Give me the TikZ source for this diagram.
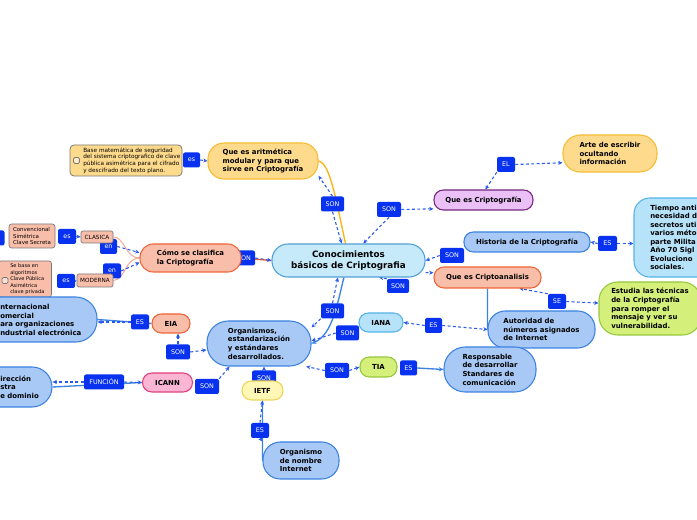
\documentclass[tikz,border=0pt]{standalone}
\usepackage{fontspec}
\setmainfont{DejaVu Sans}
\usetikzlibrary{arrows.meta}
\pgfdeclarelayer{back}
\pgfdeclarelayer{bg}
\pgfsetlayers{back,bg,main}
\definecolor{labc}{RGB}{8,50,240}
\definecolor{arrc}{RGB}{40,90,235}
\definecolor{cenF}{RGB}{198,234,250}
\definecolor{cenD}{RGB}{80,160,215}
\definecolor{bluF}{RGB}{168,201,246}
\definecolor{bluD}{RGB}{60,130,225}
\definecolor{salF}{RGB}{249,190,170}
\definecolor{salD}{RGB}{240,100,55}
\definecolor{yelF}{RGB}{253,218,140}
\definecolor{yelD}{RGB}{246,188,50}
\definecolor{lilF}{RGB}{234,192,246}
\definecolor{lilD}{RGB}{118,40,128}
\definecolor{cyaF}{RGB}{182,226,250}
\definecolor{cyaD}{RGB}{85,180,232}
\definecolor{limF}{RGB}{212,240,122}
\definecolor{limD}{RGB}{150,200,60}
\definecolor{pinF}{RGB}{251,182,212}
\definecolor{pinD}{RGB}{226,64,124}
\definecolor{pylF}{RGB}{255,247,182}
\definecolor{pylD}{RGB}{238,212,90}
\definecolor{grayD}{RGB}{120,120,120}
\definecolor{orgl}{RGB}{250,180,20}
\definecolor{redl}{RGB}{240,90,50}
\definecolor{sall}{RGB}{245,165,145}
\begin{document}
\begin{tikzpicture}[x=0.75pt,y=-0.75pt,
  box/.style n args={3}{minimum width=#1*0.75pt,minimum height=#2*0.75pt,rounded corners=#3},
  nd/.style={draw, line width=0.8pt, inner sep=0pt, align=left, font=\fontsize{5.2}{6.5}\selectfont\bfseries},
  ndc/.style={nd, align=center},
  lbl/.style={fill=labc, rounded corners=1.5pt, inner sep=0pt, text=white, font=\fontsize{4.8}{5.5}\selectfont, minimum height=15*0.75pt, minimum width=#1*0.75pt},
  lbl/.default=23,
  small/.style={draw=grayD, line width=0.5pt, inner sep=0pt, align=left, font=\fontsize{4.1}{5.1}\selectfont},
  chk/.style={draw=grayD, line width=0.5pt, rounded corners=1pt, minimum size=6*0.75pt, inner sep=0pt},
  txt/.style={inner sep=0pt, anchor=west, align=left},
  dsh/.style={draw=arrc, line width=0.8pt, dash pattern=on 2.2pt off 1.8pt, -{Stealth[length=3.2pt,width=3pt]}},
  sol/.style={draw=bluD, line width=1pt},
  solar/.style={sol, -{Stealth[length=3.5pt,width=3.2pt]}}
]
\begin{pgfonlayer}{back}
\fill[white] (0,0) rectangle (697,520);
\end{pgfonlayer}
\useasboundingbox (0,0) rectangle (697,520);

% central
\node[ndc, draw=cenD, fill=cenF, box={153}{33}{12pt}, font=\fontsize{6.6}{8}\selectfont\bfseries] (central) at (348.5,260.5) {Conocimientos\\básicos de Criptografia};

% aritmetica branch
\node[nd, draw=yelD, fill=yelF, box={110}{36}{12pt}] (arit) at (263,161) {Que es aritmética\\modular y para que\\sirve en Criptografía};
\node[draw=grayD, line width=0.6pt, fill=yelF, box={112}{31}{3pt}] (base) at (126,160.5) {};
\node[chk, fill=yelF!50!white] (chk1) at (76.5,160.5) {};
\node[txt, font=\fontsize{4.3}{5}\selectfont] (basetxt) at (83,160.5) {Base matemática de seguridad\\del sistema criptografico de clave\\pública asimétrica para el cifrado\\y descifrado del texto plano.};
\node[lbl=17] (es1) at (191.5,160) {es};
\node[lbl=23] (sonar) at (332.5,204) {SON};

% clasificacion branch
\node[lbl=22] (soncomo) at (244,258) {SON};
\node[nd, draw=salD, fill=salF, box={101}{28}{10pt}] (como) at (190.5,258) {Cómo se clasifica\\la Criptografía};
\node[lbl=17] (en1) at (108.5,246.5) {en};
\node[lbl=18] (en2) at (112,271) {en};
\node[small, fill=salF, box={32}{12}{1.5pt}, align=center, font=\fontsize{4.3}{5}\selectfont] (clasica) at (97,237) {CLASICA};
\node[small, fill=salF, box={36}{13}{1.5pt}, align=center, font=\fontsize{4.3}{5}\selectfont] (moderna) at (95,280.5) {MODERNA};
\node[small, fill=salF, box={46}{24}{2pt}] (conv) at (32,236) {Convencional\\Simétrica\\Clave Secreta};
\node[lbl=18] (es2) at (67,236.5) {es};
\node[lbl=15] (leftlbl) at (-3,238) {};
\node[small, fill=salF, box={53}{36}{2pt}] (sebasa) at (25,279) {};
\node[chk, fill=salF!50!white] (chk2) at (5,280.5) {};
\node[txt, font=\fontsize{3.8}{4.9}\selectfont] (sebasatxt) at (10,279.5) {Se basa en\\algoritmos\\Clave Pública\\Asimétrica\\clave privada};
\node[lbl=18, minimum height=14*0.75pt] (es3) at (66,281) {es};

% organismos branch
\node[nd, draw=bluD, fill=bluF, box={137}{45}{16pt}] (intl) at (28.5,319.5) {};
\node[txt, font=\fontsize{5.2}{6.5}\selectfont\bfseries] (intltxt) at (0,320) {nternacional\\omercial\\ara organizaciones\\ndustrial electrónica};
\node[lbl=18] (es4) at (140,322) {ES};
\node[ndc, draw=salD, fill=salF, box={38}{19}{7pt}] (eia) at (171,323.5) {EIA};
\node[lbl=24] (soneia) at (178,352) {SON};
\node[nd, draw=bluD, fill=bluF, box={104}{45}{16pt}] (org) at (259,343.5) {Organismos,\\estandarización\\y estándares\\desarrollados.};
\node[lbl=23] (sontop) at (332.5,311) {SON};
\node[lbl=23] (soniana) at (347.5,333) {SON};
\node[ndc, draw=cyaD, fill=cyaF, box={44}{19}{7pt}] (iana) at (381,322.5) {IANA};
\node[lbl=17] (esiana) at (433.5,325.5) {ES};
\node[nd, draw=bluD, fill=bluF, box={107}{37}{13pt}] (autoridad) at (541.5,329.5) {Autoridad de\\números asignados\\de Internet};
\node[ndc, draw=limD, fill=limF, box={37}{20}{7pt}] (tia) at (378.5,367) {TIA};
\node[lbl=24] (sontia) at (337,370.5) {SON};
\node[lbl=17] (estia) at (408.5,368) {ES};
\node[nd, draw=bluD, fill=bluF, box={92}{45}{16pt}] (resp) at (490,369.5) {Responsable\\de desarrollar\\Standares de\\comunicación};
\node[lbl=24] (sonietf) at (264,378) {SON};
\node[ndc, draw=pylD, fill=pylF, box={41}{19}{7pt}] (ietf) at (262.5,390.5) {IETF};
\node[lbl=18] (esietf) at (260,430.5) {ES};
\node[nd, draw=bluD, fill=bluF, box={76}{37}{13pt}] (orgnom) at (301,460.5) {Organismo\\de nombre\\Internet};
\node[ndc, draw=pinD, fill=pinF, box={50}{19}{7pt}] (icann) at (167.5,382.5) {ICANN};
\node[lbl=24] (sonicann) at (207,386.5) {SON};
\node[lbl=40] (funcion) at (104,382) {FUNCIÓN};
\node[nd, draw=bluD, fill=bluF, box={92}{40}{15pt}] (dir) at (6,387) {};
\node[txt, font=\fontsize{5.2}{6.5}\selectfont\bfseries] (dirtxt) at (0,387) {irección\\stra\\e dominio};

% criptografia branch
\node[ndc, draw=lilD, fill=lilF, box={99}{20}{7pt}] (cripto) at (483.5,200) {Que es Criptografía};
\node[lbl=24] (soncripto) at (389,209.5) {SON};
\node[lbl=18] (el) at (506,164.5) {EL};
\node[nd, draw=yelD, fill=yelF, box={94}{37}{13pt}] (arte) at (610,153.5) {Arte de escribir\\ocultando\\información};

% historia branch
\node[lbl=24] (sonhist) at (452,255.5) {SON};
\node[ndc, draw=bluD, fill=bluF, box={126}{20}{7pt}] (hist) at (527,242) {Historia de la Criptografía};
\node[lbl=19] (eshist) at (607.5,243.5) {ES};
\node[nd, draw=cyaD, fill=cyaF, box={130}{79}{12pt}] (tiempo) at (699,237.5) {};
\node[txt, font=\fontsize{5.2}{6.4}\selectfont\bfseries] (tiempotxt) at (650,237.5) {Tiempo anti\\necesidad d\\secretos util\\varios méto\\parte Milita\\Año 70 Sigl\\Evoluciono\\sociales.};

% criptoanalisis branch
\node[ndc, draw=salD, fill=salF, box={107}{21}{7.5pt}] (criptoan) at (487.5,277.5) {Que es Criptoanalisis};
\node[lbl=22, minimum height=14*0.75pt] (soncan) at (398,286) {SON};
\node[lbl=18] (se) at (557,301.5) {SE};
\node[nd, draw=limD, fill=limF, box={102}{53}{14pt}] (estudia) at (650,308.5) {Estudia las técnicas\\de la Criptografía\\para romper el\\mensaje y ver su\\vulnerabilidad.};

\begin{pgfonlayer}{bg}
% tree lines
\draw[draw=orgl, line width=1pt] (arit.east) .. controls (330,163) and (336,200) .. (central.100);
\draw[draw=redl, line width=1pt] (central.west) -- (como.east);
\draw[draw=sall, line width=0.7pt] (como.west) .. controls (125,258) and (125,237) .. (clasica.east);
\draw[draw=sall, line width=0.7pt] (como.west) .. controls (125,258) and (125,280) .. (moderna.east);
\draw[solar] (central.255) .. controls (338,300) and (333,335) .. (org.east);
\draw[sol] (criptoan.south) -- (autoridad.west);
\draw[solar] (estia.east) -- (resp.west);
\draw[sol] (ietf.south) -- (orgnom.west);
\draw[sol] (icann.west) -- (dir.east);
\draw[sol] (eia.west) -- (intl.east);
% relation arrows
\draw[dsh] (es1.east) -- (arit.west);
\draw[dsh] (sonar.north) -- (arit.-15);
\draw[dsh] (sonar.south) -- (central.112);
\draw[dsh] (soncripto.south) -- (central.49);
\draw[dsh] (soncripto.east) -- (cripto.190);
\draw[dsh] (el.south west) -- (cripto.80);
\draw[dsh] (el.east) -- (arte.191);
\draw[dsh] (sonhist.west) -- (central.east);
\draw[dsh] (eshist.west) -- (hist.east);
\draw[dsh] (eshist.east) -- (eshist.east -| tiempo.west);
\draw[dsh] (soncan.north west) -- (central.-29);
\draw[dsh] (central.-9) -- (criptoan.175);
\draw[dsh] (se.north west) -- (criptoan.-19);
\draw[dsh] (se.east) -- (estudia.174);
\draw[dsh] (esiana.west) -- (iana.east);
\draw[dsh] (esiana.east) -- (autoridad.west);
\draw[dsh] (sontop.north) -- (central.238);
\draw[dsh] (sontop.south west) -- (org.17);
\draw[dsh] (soniana.west) -- (org.3);
\draw[dsh] (sontia.east) -- (tia.west);
\draw[dsh] (sontia.west) -- (org.-26);
\draw[dsh] (sonietf.north) -- (sonietf.north |- org.south);
\draw[dsh] (esietf.north) -- (ietf.south);
\draw[dsh] (esietf.south) -- (orgnom.north west);
\draw[dsh] (sonicann.north east) -- (org.218);
\draw[dsh] (funcion.east) -- (icann.west);
\draw[dsh] (funcion.west) -- (funcion.west -| dir.east);
\draw[dsh] (soneia.north) -- (soneia.north |- eia.south);
\draw[dsh] (soneia.east) -- (org.187);
\draw[dsh] (es4.west) -- (es4.west -| intl.east);
\draw[dsh] (soncomo.east) -- (central.west);
\draw[dsh] (en1.east) -- (como.174);
\draw[dsh] (en2.east) -- (como.185);
\draw[dsh] (es2.east) -- (clasica.west);
\draw[dsh] (es3.east) -- (moderna.west);
\end{pgfonlayer}
\end{tikzpicture}
\end{document}
